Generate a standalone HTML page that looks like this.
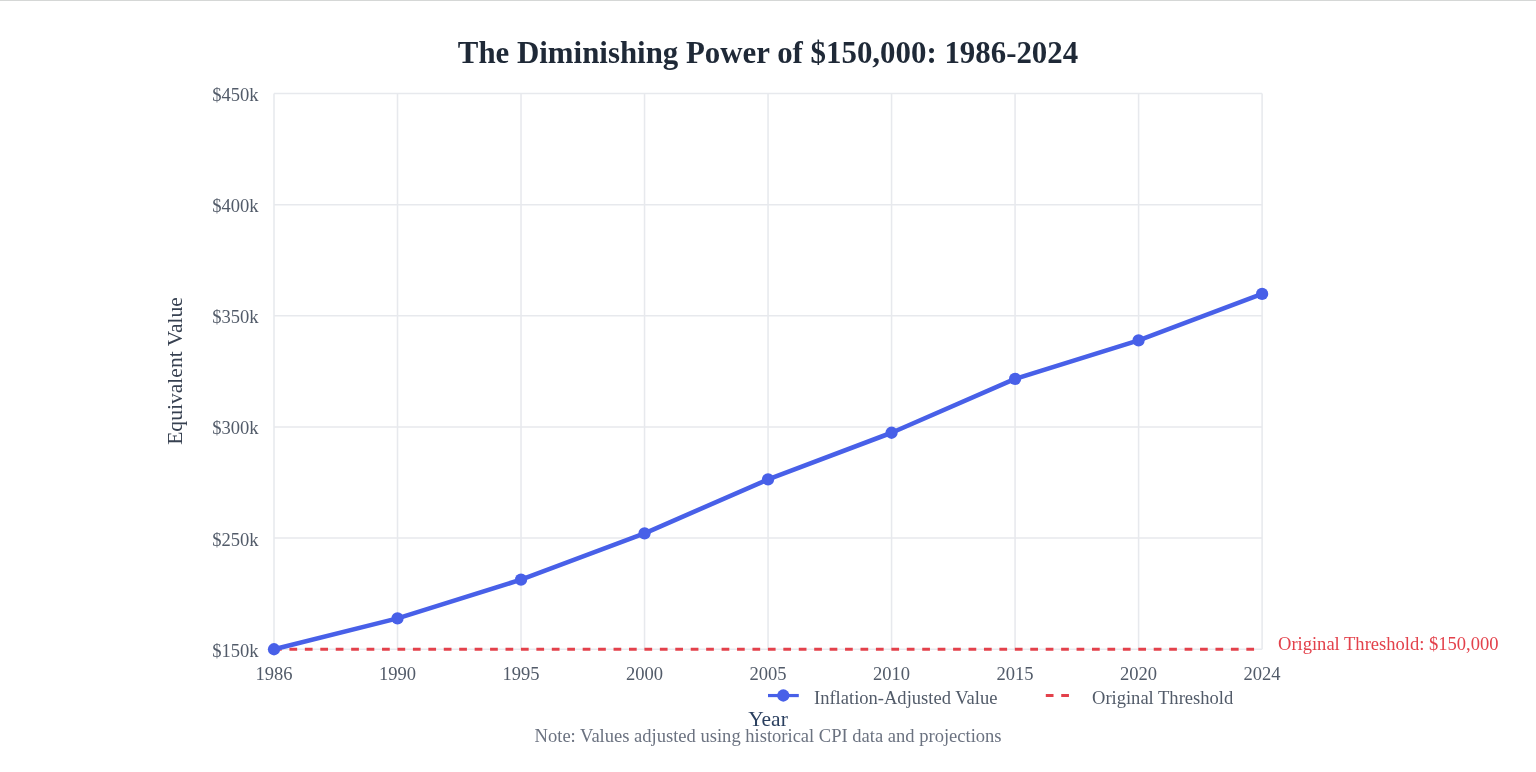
<!DOCTYPE html>
<html lang="en"><head><meta charset="utf-8"><title>The Diminishing Power of $150,000: 1986-2024</title>
<style>
html,body{margin:0;padding:0;background:#fff;overflow:hidden}
body{width:1536px;height:772px;position:relative;font-family:"Liberation Serif","Times New Roman",serif}
svg{position:absolute;left:0;top:0;display:block}
text{font-family:"Liberation Serif","Times New Roman",serif}
.tk{font-size:18.55px;fill:#525b69}
</style></head><body>
<svg width="1536" height="772" viewBox="0 0 1536 772">
<rect x="0" y="0" width="1536" height="772" fill="#fff"/>
<rect x="0" y="0" width="1536" height="1" fill="#d5d7d6"/>

<g stroke="#e7e9ed" stroke-width="1.54" fill="none">
<path d="M274.00 93.56V649.21"/>
<path d="M397.51 93.56V649.21"/>
<path d="M521.02 93.56V649.21"/>
<path d="M644.54 93.56V649.21"/>
<path d="M768.05 93.56V649.21"/>
<path d="M891.56 93.56V649.21"/>
<path d="M1015.07 93.56V649.21"/>
<path d="M1138.59 93.56V649.21"/>
<path d="M1262.10 93.56V649.21"/>
<path d="M274.00 93.56H1262.10"/>
<path d="M274.00 204.69H1262.10"/>
<path d="M274.00 315.82H1262.10"/>
<path d="M274.00 426.95H1262.10"/>
<path d="M274.00 538.08H1262.10"/>
<path d="M274.00 649.21H1262.10"/>
</g>
<path d="M274.00 649.21H1261.10" stroke="#e3414b" stroke-width="3.07" stroke-dasharray="7.717 7.717" fill="none"/>
<path d="M274.00 649.25L397.51 618.37L521.02 579.65L644.54 533.37L768.05 479.37L891.56 432.75L1015.07 378.90L1138.59 340.33L1262.10 293.96" stroke="#4860e8" stroke-width="4.6" fill="none" stroke-linejoin="round"/>
<circle cx="274.00" cy="649.25" r="6.14" fill="#4860e8"/>
<circle cx="397.51" cy="618.37" r="6.14" fill="#4860e8"/>
<circle cx="521.02" cy="579.65" r="6.14" fill="#4860e8"/>
<circle cx="644.54" cy="533.37" r="6.14" fill="#4860e8"/>
<circle cx="768.05" cy="479.37" r="6.14" fill="#4860e8"/>
<circle cx="891.56" cy="432.75" r="6.14" fill="#4860e8"/>
<circle cx="1015.07" cy="378.90" r="6.14" fill="#4860e8"/>
<circle cx="1138.59" cy="340.33" r="6.14" fill="#4860e8"/>
<circle cx="1262.10" cy="293.96" r="6.14" fill="#4860e8"/>
<text class="tk" x="258.5" y="101.06" text-anchor="end">$450k</text>
<text class="tk" x="258.5" y="212.19" text-anchor="end">$400k</text>
<text class="tk" x="258.5" y="323.32" text-anchor="end">$350k</text>
<text class="tk" x="258.5" y="434.45" text-anchor="end">$300k</text>
<text class="tk" x="258.5" y="545.58" text-anchor="end">$250k</text>
<text class="tk" x="258.5" y="656.71" text-anchor="end">$150k</text>
<text class="tk" x="274.00" y="680" text-anchor="middle">1986</text>
<text class="tk" x="397.51" y="680" text-anchor="middle">1990</text>
<text class="tk" x="521.02" y="680" text-anchor="middle">1995</text>
<text class="tk" x="644.54" y="680" text-anchor="middle">2000</text>
<text class="tk" x="768.05" y="680" text-anchor="middle">2005</text>
<text class="tk" x="891.56" y="680" text-anchor="middle">2010</text>
<text class="tk" x="1015.07" y="680" text-anchor="middle">2015</text>
<text class="tk" x="1138.59" y="680" text-anchor="middle">2020</text>
<text class="tk" x="1262.10" y="680" text-anchor="middle">2024</text>
<text x="768" y="62.7" text-anchor="middle" font-size="30.88" font-weight="bold" fill="#1f2937">The Diminishing Power of $150,000: 1986-2024</text>
<text transform="translate(182,371) rotate(-90)" text-anchor="middle" font-size="21.6" fill="#374151">Equivalent Value</text>
<text x="768" y="726" text-anchor="middle" font-size="21.5" fill="#2a3f5f">Year</text>
<path d="M768 695.55H798.8" stroke="#4860e8" stroke-width="3.2"/>
<circle cx="783.3" cy="695.5" r="6.14" fill="#4860e8"/>
<text class="tk" x="814" y="703.7">Inflation-Adjusted Value</text>
<path d="M1045.8 695.5H1076.5" stroke="#e3414b" stroke-width="3.07" stroke-dasharray="7.717 7.717"/>
<text class="tk" x="1092" y="703.7">Original Threshold</text>
<text x="1278" y="649.5" font-size="18.55" fill="#e3414b">Original Threshold: $150,000</text>
<text x="768.1" y="742" text-anchor="middle" font-size="18.55" fill="#6b7280">Note: Values adjusted using historical CPI data and projections</text>
</svg></body></html>
